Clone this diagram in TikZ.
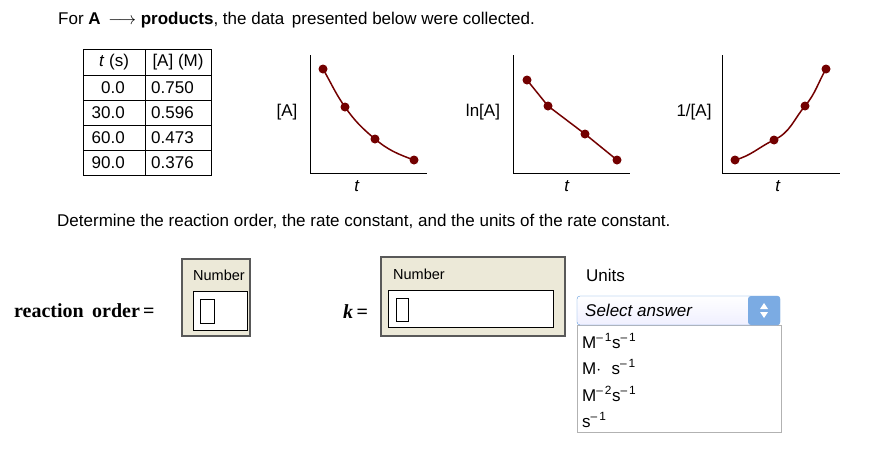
\documentclass[tikz,border=0pt]{standalone}
\usepackage{fontspec}
\setmainfont{Liberation Sans}
\newfontfamily\serifb{Liberation Serif}
\begin{document}
\begin{tikzpicture}[x=1pt,y=-1pt,font=\fontsize{17}{20}\selectfont,
  pt/.style={circle,fill=red!45!black,inner sep=0pt,minimum size=9pt},
  curve/.style={red!45!black,line width=1.5pt},
  ax/.style={line width=0.8pt},
  lbl/.style={inner sep=0pt}]
\useasboundingbox (0,0) rectangle (891,469);
\node[lbl,anchor=west] (hdr) at (58,20) {For \textbf{A}\, $\longrightarrow$ \textbf{products}, the data\, presented below were collected.};
% table
\draw[line width=0.8pt] (83,49) rectangle (211,175);
\draw[line width=0.8pt] (145,49) -- (145,175);
\foreach \y in {75,100,125,150} \draw[line width=0.6pt] (83,\y) -- (211,\y);
\node[lbl] (h1) at (114,62) {\textit{t} (s)};
\node[lbl] (h2) at (178,62) {[A] (M)};
\foreach \a/\b/\y in {0.0/0.750/88,30.0/0.596/113,60.0/0.473/138,90.0/0.376/163}{
  \node[lbl,anchor=east] at (125,\y) {\a};
  \node[lbl,anchor=west] at (151,\y) {\b};}
% graph 1
\draw[ax] (310,55) -- (310,173) -- (427,173);
\node[pt] (a1) at (323,69) {}; \node[pt] (a2) at (345,107) {};
\node[pt] (a3) at (375,139) {}; \node[pt] (a4) at (414,160) {};
\draw[curve] (a1.center) to[out=-60,in=125] (a2.center) to[out=-55,in=140] (a3.center) to[out=-40,in=160] (a4.center);
\node[lbl] (y1) at (287,112) {[A]}; \node[lbl] (t1) at (357,186) {\textit{t}};
% graph 2
\draw[ax] (513,55) -- (513,173) -- (630,173);
\node[pt] (b1) at (527,80) {}; \node[pt] (b2) at (548,106) {};
\node[pt] (b3) at (585,134) {}; \node[pt] (b4) at (617,160) {};
\draw[curve] (b1.center) -- (b2.center) -- (b3.center) -- (b4.center);
\node[lbl] (y2) at (483,112) {ln[A]}; \node[lbl] (t2) at (567,186) {\textit{t}};
% graph 3
\draw[ax] (722,55) -- (722,173) -- (840,173);
\node[pt] (c1) at (735,160) {}; \node[pt] (c2) at (774,140) {};
\node[pt] (c3) at (805,106) {}; \node[pt] (c4) at (826,69) {};
\draw[curve] (c1.center) to[out=15,in=205] (c2.center) to[out=25,in=230] (c3.center) to[out=50,in=240] (c4.center);
\node[lbl] (y3) at (694,112) {1/[A]}; \node[lbl] (t3) at (778,186) {\textit{t}};
\node[lbl,anchor=west] (det) at (57,221) {Determine the reaction order, the rate constant, and the units of the rate constant.};
% answer boxes
\definecolor{beige}{RGB}{236,233,216}
\draw[gray!70!black,line width=2pt,fill=beige] (182,259) rectangle (250,336);
\draw[fill=white,line width=0.7pt] (193,291) rectangle (247,330);
\draw[line width=0.6pt] (200,299) rectangle (214,323);
\node[lbl,font=\fontsize{14.5}{16}\selectfont] (n1) at (219,275) {Number};
\draw[gray!70!black,line width=2pt,fill=beige] (381,257) rectangle (565,336);
\draw[fill=white,line width=0.7pt] (388,290) rectangle (553,327);
\draw[line width=0.6pt] (396,298) rectangle (408,321);
\node[lbl,font=\fontsize{14.5}{16}\selectfont,anchor=west] (n2) at (393,274) {Number};
\node[lbl,anchor=west,font=\serifb\bfseries\fontsize{20}{22}\selectfont] (ro) at (14,311) {reaction\, order\,=};
\node[lbl,anchor=west,font=\serifb\bfseries\fontsize{20}{22}\selectfont] (k) at (343,312) {\textit{k}\,=};
\node[lbl,anchor=west] (units) at (586,275) {Units};
% select
\definecolor{selblue}{RGB}{90,150,220}
\draw[gray!60,fill=white] (577,325) rectangle (781,432);
\shade[top color=white,bottom color=blue!6,rounded corners=3pt] (577,296) rectangle (780,325);
\draw[selblue,rounded corners=3pt] (577,296) rectangle (780,325);
\fill[selblue!80,rounded corners=3pt] (748,296) rectangle (780,325);
\fill[white] (764,303) -- (760,309) -- (768,309) -- cycle;
\fill[white] (764,318) -- (760,312) -- (768,312) -- cycle;
\node[lbl,anchor=west] (sel) at (585,310) {\textit{Select answer}};
\node[lbl,anchor=west] (u1) at (582,341) {M\textsuperscript{--\,1}s\textsuperscript{--\,1}};
\node[lbl,anchor=west] (u2) at (582,367) {M$\cdot$\,\, s\textsuperscript{--\,1}};
\node[lbl,anchor=west] (u3) at (582,394) {M\textsuperscript{--\,2}s\textsuperscript{--\,1}};
\node[lbl,anchor=west] (u4) at (582,420) {s\textsuperscript{--\,1}};
\end{tikzpicture}
\end{document}
